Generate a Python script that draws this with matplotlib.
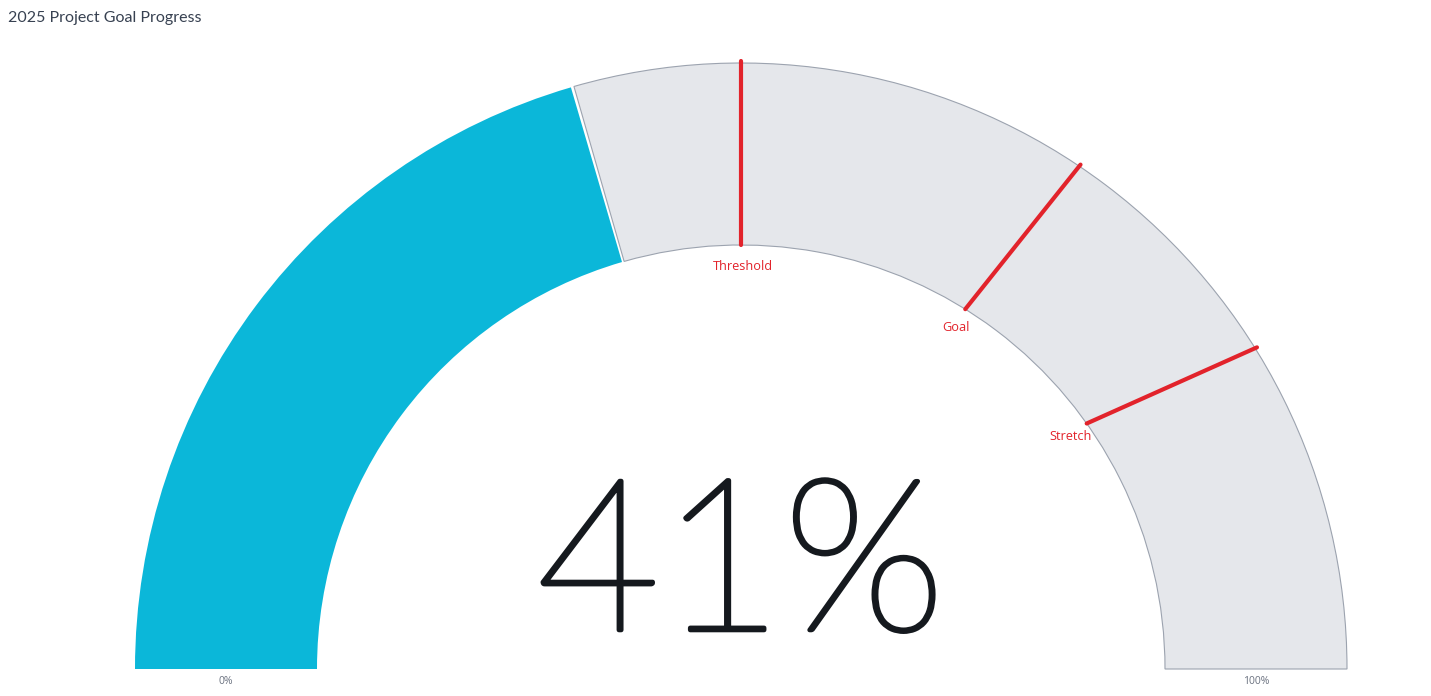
import numpy as np
import matplotlib
matplotlib.use("Agg")
import matplotlib.pyplot as plt
import matplotlib.patheffects as pe
from matplotlib.patches import Wedge

# Gauge data
title = "2025 Project Goal Progress"
progress = 0.41
marker_names = ["Threshold", "Goal", "Stretch"]
marker_values = [0.50, 0.683, 0.813]
min_label = "0%"
max_label = "100%"

fill_color = "#0bb7d9"
track_color = "#e5e7eb"
edge_color = "#9ca3af"
marker_color = "#e2232b"

W, H = 1431, 696
fig = plt.figure(figsize=(W / 100, H / 100), dpi=100)
ax = fig.add_axes([0, 0, 1, 1])
ax.set_xlim(0, W)
ax.set_ylim(0, H)
ax.axis("off")

cx, cy = 741, H - 669
r_out, r_in = 606, 424


def angle(frac):
    return 180 - frac * 180


# grey track with thin outline, then the filled part on top
ax.add_patch(Wedge((cx, cy), r_out, 0, angle(progress) - 0.2, width=r_out - r_in,
                   facecolor=track_color, edgecolor=edge_color, linewidth=0.8))
ax.add_patch(Wedge((cx, cy), r_out, angle(progress) + 0.1, 180, width=r_out - r_in,
                   facecolor=fill_color, edgecolor="none"))

# marker lines (slightly tilted like the original) + labels
for name, val in zip(marker_names, marker_values):
    skew = 11 * (val - 0.5)
    a_in = np.radians(angle(val) + skew / 2)
    a_out = np.radians(angle(val) - skew / 2)
    ax.plot([cx + r_in * np.cos(a_in), cx + (r_out + 2) * np.cos(a_out)],
            [cy + r_in * np.sin(a_in), cy + (r_out + 2) * np.sin(a_out)],
            color=marker_color, linewidth=3, solid_capstyle="round")
    ax.text(cx + 402 * np.cos(a_in) + 2, cy + 402 * np.sin(a_in), name, color=marker_color,
            fontsize=9.2, family="Open Sans", ha="center", va="center")

ax.text(cx - (r_out + r_in) / 2, cy - 13, min_label, color="#6b7280",
        fontsize=7.5, family="Open Sans", ha="center", va="center")
ax.text(cx + (r_out + r_in) / 2, cy - 13, max_label, color="#6b7280",
        fontsize=7.5, family="Open Sans", ha="center", va="center")

# big value
ax.text(cx, H - 630, f"{progress * 100:.0f}%", color="#15191e", fontsize=153,
        family="Lato", fontweight="light", ha="center", va="baseline",
        path_effects=[pe.withStroke(linewidth=3.3, foreground="#15191e")])

fig.text(8 / W, 1 - 18 / H, title, color="#374151", fontsize=11.5,
         family="Lato", ha="left", va="center")

fig.savefig("out.png", dpi=100, facecolor="white")
